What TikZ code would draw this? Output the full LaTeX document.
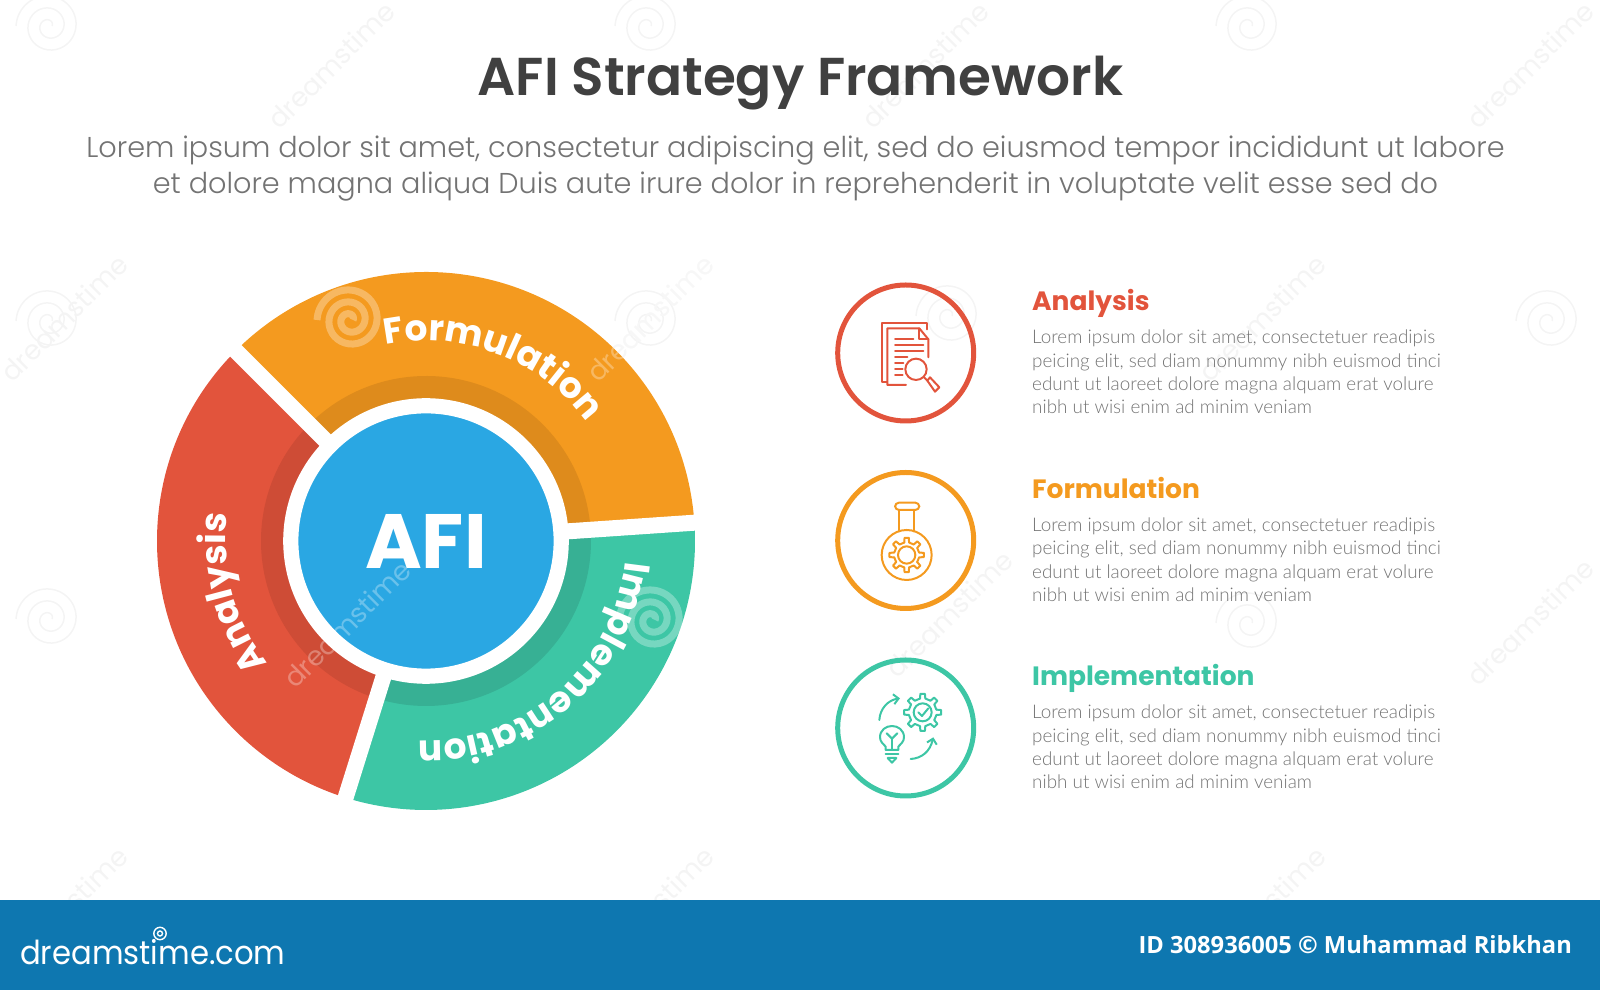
\documentclass[tikz,border=0pt]{standalone}
\usepackage{fontspec}
\setmainfont{Poppins}
\newfontfamily\titlefont{Poppins}[UprightFont=* SemiBold]
\newfontfamily\leadfont{Poppins}[UprightFont=* Light]
\newfontfamily\bodyfont{Lato}[UprightFont=* Light]
\newfontfamily\idfont{Open Sans}
\usetikzlibrary{positioning}
\usetikzlibrary{decorations.text}
\usetikzlibrary{arrows.meta}
\definecolor{orangeseg}{RGB}{244, 154, 31}
\definecolor{redseg}{RGB}{226, 84, 60}
\definecolor{tealseg}{RGB}{61, 198, 165}
\definecolor{orangeband}{RGB}{222, 139, 28}
\definecolor{redband}{RGB}{206, 76, 54}
\definecolor{tealband}{RGB}{55, 176, 148}
\definecolor{hubblue}{RGB}{42, 167, 227}
\definecolor{bannerblue}{RGB}{14, 119, 176}
\definecolor{titlegray}{RGB}{64, 64, 64}
\definecolor{leadgray}{RGB}{115, 115, 115}
\definecolor{markgray}{RGB}{244, 244, 244}
\tikzset{
    ringnode/.style={circle, draw, line width=5pt, minimum size=136pt, inner sep=0pt},
    headnode/.style={anchor=base west, inner sep=0pt, font=\bfseries\fontsize{26.5}{30}\selectfont},
    paranode/.style={anchor=north west, align=left, inner sep=0pt, text=leadgray, font=\bodyfont\fontsize{18.85}{23.3}\selectfont},
    iconline/.style={line width=2pt, line cap=round, line join=round},
    iconscope/.style={shift={#1}, x=0.3333pt, y=-0.3333pt},
    curvedtext/.style={decorate, decoration={text along path, text align=center, text color=white, text={|\bfseries\fontsize{36}{36}\selectfont|#1}}},
    marktext/.style={rotate=45, text=markgray, font=\fontsize{27}{27}\selectfont},
    overtext/.style={rotate=45, text=white, opacity=0.3, font=\fontsize{27}{27}\selectfont}
}
\newcommand{\swirlmark}[3]{%
    \draw[#3, domain=0:900, samples=90, smooth, shift={(#1,#2)}] plot (\x:{3 + \x / 30});
}
\newcommand{\gearshape}[5]{%
    \foreach \a in {0, #5, ..., 359} {
        \draw[iconline, shift={(#1,#2)}] (\a - 11:#3) -- (\a - 7:#4) -- (\a + 7:#4) -- (\a + 11:#3) -- (\a + #5 - 11:#3);
    }
}

\begin{document}
\begin{tikzpicture}[x=1pt, y=1pt]
    \useasboundingbox (0, 0) rectangle (1600, 990);

    % faint marks
    \foreach \mx/\my in {49/964, 648/964, 1249/964, 49/371, 1249/367, 1549/669, 949/674, 648/669, 49/669} {
        \swirlmark{\mx}{\my}{markgray, line width=1.5pt}
    }
    \foreach \mx/\my [count=\mi] in {331/925, 925/925, 1530/925, 64/672, 650/672, 1262/672, 949/376, 1530/368, 64/80, 650/80, 1262/80} {
        \node[marktext] (mark\mi) at (\mx, \my) {dreamstime};
    }

    % wheel
    \coordinate (hub) at (426, 449);
    \begin{scope}[shift={(hub)}]
        \fill[orangeseg] (0, 0) -- (3.9:269) arc[start angle=3.9, end angle=135, radius=269] -- cycle;
        \fill[redseg] (0, 0) -- (135:269) arc[start angle=135, end angle=252.6, radius=269] -- cycle;
        \fill[tealseg] (0, 0) -- (252.6:269) arc[start angle=252.6, end angle=363.9, radius=269] -- cycle;
        \fill[orangeband] (0, 0) -- (3.9:165) arc[start angle=3.9, end angle=135, radius=165] -- cycle;
        \fill[redband] (0, 0) -- (135:165) arc[start angle=135, end angle=252.6, radius=165] -- cycle;
        \fill[tealband] (0, 0) -- (252.6:165) arc[start angle=252.6, end angle=363.9, radius=165] -- cycle;
        \foreach \gap in {3.9, 135, 252.6} {
            \draw[white, line width=16pt] (0, 0) -- (\gap:280);
        }
        \path[curvedtext=Formulation] (114:200) arc[start angle=114, end angle=24, radius=200];
        \path[curvedtext=Analysis] (230:200) arc[start angle=230, end angle=160, radius=200];
        \path[curvedtext=Implementation] (21:200) arc[start angle=21, end angle=-119, radius=200];
    \end{scope}
    \swirlmark{350}{670}{white, opacity=0.3, line width=7pt}
    \swirlmark{652}{370}{white, opacity=0.3, line width=7pt}
    \node[circle, fill=hubblue, draw=white, line width=15.2pt, minimum size=270.4pt, inner sep=0pt, text=white, font=\bfseries\fontsize{77}{77}\selectfont] (afi) at (hub) {AFI};
    \node[overtext] (over1) at (347, 366) {dreamstime};
    \node[overtext] (over2) at (650, 672) {dreamstime};

    % header
    \node[text=titlegray, font=\titlefont\fontsize{53.3}{54}\selectfont] (title) at (800.5, 907) {AFI Strategy Framework};
    \node[align=center, text=leadgray, font=\leadfont\fontsize{28.7}{35.5}\selectfont] (lead) at (795.5, 821.5) {Lorem ipsum dolor sit amet, consectetur adipiscing elit, sed do eiusmod tempor incididunt ut labore\\et dolore magna aliqua Duis aute irure dolor in reprehenderit in voluptate velit esse sed do};

    % items
    \foreach \nam/\lab/\clr/\cy in {ana/Analysis/redseg/637, frm/Formulation/orangeseg/449.5, imp/Implementation/tealseg/262} {
        \node[ringnode, draw=\clr] (ring\nam) at (905.7, \cy) {};
        \node[headnode, text=\clr] (head\nam) at (1032, \cy + 42) {\lab};
        \node[paranode] (para\nam) at (1032, \cy + 23) {Lorem ipsum dolor sit amet, consectetuer readipis\\peicing elit, sed diam nonummy nibh euismod tinci\\edunt ut laoreet dolore magna alquam erat volure\\nibh ut wisi enim ad minim veniam};
    }

    % analysis icon
    \begin{scope}[iconscope={(820, 720)}, redseg]
        \draw[iconline] (200, 335) -- (187, 335) -- (187, 160) -- (320, 160) -- (320, 178);
        \draw[iconline] (258, 345) -- (202, 345) -- (202, 175) -- (298, 175) -- (325, 208) -- (325, 262);
        \draw[iconline] (298, 175) -- (298, 208) -- (325, 208);
        \draw[iconline] (225, 207) -- (280, 207);
        \draw[iconline] (225, 225) -- (310, 225);
        \draw[iconline] (225, 243) -- (310, 243);
        \draw[iconline] (225, 260) -- (262, 260);
        \draw[iconline] (225, 278) -- (250, 278);
        \draw[iconline] (225, 296) -- (248, 296);
        \draw[iconline] (225, 314) -- (248, 314);
        \draw[iconline] (288, 298) circle[radius=32];
        \draw[iconline] (312, 322) -- (322, 332);
        \draw[iconline] (322, 332) -- (345, 365) -- (358, 352) -- (330, 322) -- cycle;
    \end{scope}

    % flask icon
    \begin{scope}[iconscope={(820, 530)}, orangeseg]
        \draw[iconline, rounded corners=4pt] (225, 128) rectangle (298, 150);
        \draw[iconline] (238, 150) -- (238, 214);
        \draw[iconline] (282, 150) -- (282, 214);
        \draw[iconline] (260, 285) circle[radius=75];
        \gearshape{260}{285}{38}{52}{45}
        \draw[iconline] (260, 285) circle[radius=26];
    \end{scope}

    % cycle icon
    \begin{scope}[iconscope={(820, 340)}, tealseg]
        \gearshape{308}{187}{42}{56}{45}
        \draw[iconline] (308, 187) circle[radius=27];
        \draw[iconline] (295, 187) -- (306, 198) -- (325, 175);
        \draw[iconline, -{Straight Barb[length=5pt, width=10pt]}] (178, 210) .. controls (180, 175) and (205, 150) .. (240, 145);
        \draw[iconline, -{Straight Barb[length=5pt, width=10pt]}] (272, 327) .. controls (305, 325) and (330, 305) .. (340, 262);
        \draw[iconline] (197, 300) -- (197, 290) .. controls (190, 282) and (180, 275) .. (180, 262) .. controls (180, 240) and (198, 228) .. (216, 228) .. controls (234, 228) and (252, 240) .. (252, 262) .. controls (252, 275) and (242, 282) .. (235, 290) -- (235, 300) -- cycle;
        \draw[iconline] (197, 312) -- (235, 312);
        \draw[iconline] (203, 324) -- (229, 324) -- (216, 338) -- cycle;
        \draw[iconline] (216, 298) -- (216, 266);
        \draw[iconline] (200, 250) -- (216, 266) -- (232, 250);
    \end{scope}

    % banner
    \fill[bannerblue] (0, 0) rectangle (1600, 90);
    \node[anchor=west, inner sep=0pt, xscale=0.93, transform shape, text=white, font=\fontsize{33}{33}\selectfont] (logo) at (20, 38) {dreamstime.com};
    \draw[white, line width=1.4pt] (160, 56.5) circle[radius=6.2];
    \draw[white, line width=1.4pt] (160, 56.5) circle[radius=2.5];
    \node[anchor=east, inner sep=0pt, text=white, font=\idfont\bfseries\fontsize{23.7}{24}\selectfont] (credit) at (1572, 45) {ID 308936005 © Muhammad Ribkhan};
\end{tikzpicture}
\end{document}
